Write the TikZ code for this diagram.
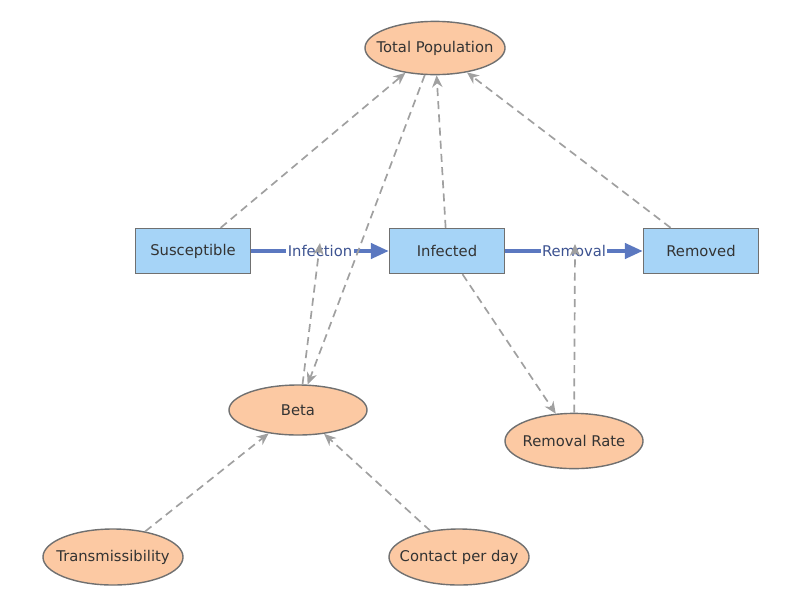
\documentclass[tikz,border=0pt]{standalone}
\usepackage{fontspec}
\setmainfont{DejaVu Sans}
\usetikzlibrary{arrows.meta,shapes.geometric}
\definecolor{stockfill}{HTML}{A6D4F7}
\definecolor{auxfill}{HTML}{FCC9A3}
\definecolor{edgegray}{HTML}{707070}
\definecolor{nodetext}{HTML}{333333}
\definecolor{flowblue}{HTML}{5B78C0}
\definecolor{flowtext}{HTML}{3D5391}
\definecolor{linkgray}{HTML}{A0A0A0}
\tikzset{
  stock/.style={draw=edgegray,fill=stockfill,line width=1pt,text=nodetext,minimum width=2.875cm,minimum height=1.125cm,font=\fontsize{10.5}{12}\selectfont},
  aux/.style={ellipse,draw=edgegray,fill=auxfill,line width=1pt,text=nodetext,inner xsep=-0.25cm,inner ysep=0pt,minimum width=3.5cm,minimum height=1.33cm,font=\fontsize{10.5}{12}\selectfont},
  flow/.style={draw=flowblue,line width=2.8pt,-{Triangle[length=0.45cm,width=0.38cm]}},
  flowlabel/.style={fill=white,text=flowtext,inner sep=1pt,font=\fontsize{10.5}{12}\selectfont},
  link/.style={draw=linkgray,line width=1.2pt,dash pattern=on 0.2cm off 0.13cm,-{Stealth[length=0.3cm,width=0.26cm]}}
}
\begin{document}
\begin{tikzpicture}[x=0.025cm,y=-0.025cm]
        \useasboundingbox (0,0) rectangle (800,600);
        %% stocks
        \node[stock] (sus) at (193,251) {Susceptible};
        \node[stock] (inf) at (447,251) {Infected};
        \node[stock] (rem) at (701,251) {Removed};
        %% auxiliaries
        \node[aux] (tp) at (435,48) {Total Population};
        \node[aux,minimum width=3.45cm,minimum height=1.25cm] (beta) at (298,410) {Beta};
        \node[aux,minimum width=3.45cm,minimum height=1.38cm] (rrate) at (574,441) {Removal Rate};
        \node[aux,minimum height=1.4cm] (trans) at (113,557) {Transmissibility};
        \node[aux,minimum height=1.4cm] (contact) at (459,557) {Contact per day};
        %% flows
        \draw[flow] (sus) -- node[flowlabel] (infection) {Infection} (inf);
        \draw[flow] (inf) -- node[flowlabel] (removal) {Removal} (rem);
        \coordinate (infin) at (320,243);
        \coordinate (remin) at (575,244);
        %% links
        \draw[link] (sus) -- (tp);
        \draw[link] (inf) -- (tp);
        \draw[link] (rem) -- (tp);
        \draw[link] (tp) -- (beta);
        \draw[link] (beta.80) -- (infin);
        \draw[link] (inf) -- (rrate);
        \draw[link] (rrate) -- (remin);
        \draw[link] (trans) -- (beta);
        \draw[link] (contact) -- (beta);
    \end{tikzpicture}
\end{document}
